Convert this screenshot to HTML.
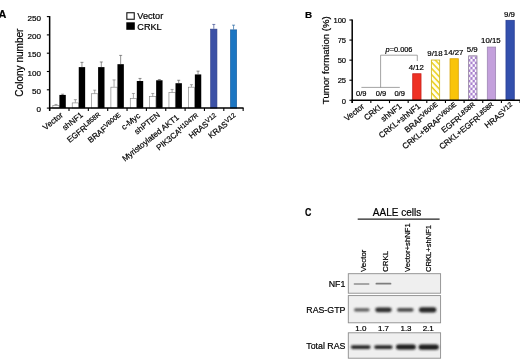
<!DOCTYPE html>
<html><head><meta charset="utf-8"><title>Figure</title>
<style>
html,body{margin:0;padding:0;background:#fff;}
body{width:520px;height:359px;overflow:hidden;}
svg{display:block;}
text{font-family:"Liberation Sans",sans-serif;fill:#000;stroke:#000;stroke-width:0.2px;}
.b{font-weight:bold;fill:#000;}
</style></head><body>
<svg width="520" height="359" viewBox="0 0 520 359">
<defs>
<pattern id="stripe" width="4.2" height="4.2" patternUnits="userSpaceOnUse" patternTransform="translate(431,60.5) rotate(47)">
<rect width="4.2" height="4.2" fill="#fffef0"/><rect width="4.2" height="1.5" fill="#ecd01a"/>
</pattern>
<pattern id="check" width="4.4" height="5.2" patternUnits="userSpaceOnUse" patternTransform="translate(470.4,56.4)">
<rect width="4.4" height="5.2" fill="#fdfbfe"/><rect width="2.2" height="2.6" fill="#a981cf"/><rect x="2.2" y="2.6" width="2.2" height="2.6" fill="#a981cf"/>
</pattern>
<filter id="bl" x="-20%" y="-100%" width="140%" height="300%"><feGaussianBlur stdDeviation="1.1 0.8"/></filter>
<filter id="bl2" x="-20%" y="-100%" width="140%" height="300%"><feGaussianBlur stdDeviation="0.6 0.4"/></filter>
</defs>
<rect width="520" height="359" fill="#fff"/>

<g id="panelA">
<text class="b" x="-1.6" y="17.9" font-size="10.8">A</text>
<text transform="translate(23.2,62.6) rotate(-90)" text-anchor="middle" font-size="10.05">Colony number</text>
<line x1="46.85" y1="108.10" x2="49.65" y2="108.10" stroke="#000" stroke-width="1.1"/>
<text x="41.05" y="112.30" text-anchor="end" font-size="8.1">0</text>
<line x1="46.85" y1="89.80" x2="49.65" y2="89.80" stroke="#000" stroke-width="1.1"/>
<text x="41.05" y="94.00" text-anchor="end" font-size="8.1">50</text>
<line x1="46.85" y1="71.50" x2="49.65" y2="71.50" stroke="#000" stroke-width="1.1"/>
<text x="41.05" y="75.70" text-anchor="end" font-size="8.1">100</text>
<line x1="46.85" y1="53.20" x2="49.65" y2="53.20" stroke="#000" stroke-width="1.1"/>
<text x="41.05" y="57.40" text-anchor="end" font-size="8.1">150</text>
<line x1="46.85" y1="34.90" x2="49.65" y2="34.90" stroke="#000" stroke-width="1.1"/>
<text x="41.05" y="39.10" text-anchor="end" font-size="8.1">200</text>
<line x1="46.85" y1="16.60" x2="49.65" y2="16.60" stroke="#000" stroke-width="1.1"/>
<text x="41.05" y="20.80" text-anchor="end" font-size="8.1">250</text>
<rect x="52.85" y="105.47" width="6.3" height="2.63" fill="#fff" stroke="#777" stroke-width="0.6"/>
<path d="M56.00 105.17V104.44M54.50 104.44H57.50" stroke="#777" stroke-width="0.65" fill="none"/>
<rect x="59.40" y="94.92" width="6.4" height="13.18" fill="#000"/>
<path d="M62.60 94.92V94.19M61.10 94.19H64.10" stroke="#555" stroke-width="0.65" fill="none"/>
<rect x="72.20" y="102.91" width="6.3" height="5.19" fill="#fff" stroke="#777" stroke-width="0.6"/>
<path d="M75.35 102.61V99.68M73.85 99.68H76.85" stroke="#777" stroke-width="0.65" fill="none"/>
<rect x="78.75" y="67.11" width="6.4" height="40.99" fill="#000"/>
<path d="M81.95 67.11V62.35M80.45 62.35H83.45" stroke="#555" stroke-width="0.65" fill="none"/>
<rect x="91.55" y="93.76" width="6.3" height="14.34" fill="#fff" stroke="#777" stroke-width="0.6"/>
<path d="M94.70 93.46V90.17M93.20 90.17H96.20" stroke="#777" stroke-width="0.65" fill="none"/>
<rect x="98.10" y="67.11" width="6.4" height="40.99" fill="#000"/>
<path d="M101.30 67.11V61.98M99.80 61.98H102.80" stroke="#555" stroke-width="0.65" fill="none"/>
<rect x="110.90" y="87.17" width="6.3" height="20.93" fill="#fff" stroke="#777" stroke-width="0.6"/>
<path d="M114.05 86.87V79.92M112.55 79.92H115.55" stroke="#777" stroke-width="0.65" fill="none"/>
<rect x="117.45" y="64.18" width="6.4" height="43.92" fill="#000"/>
<path d="M120.65 64.18V55.40M119.15 55.40H122.15" stroke="#555" stroke-width="0.65" fill="none"/>
<rect x="130.25" y="98.52" width="6.3" height="9.58" fill="#fff" stroke="#777" stroke-width="0.6"/>
<path d="M133.40 98.22V93.46M131.90 93.46H134.90" stroke="#777" stroke-width="0.65" fill="none"/>
<rect x="136.80" y="81.02" width="6.4" height="27.08" fill="#000"/>
<path d="M140.00 81.02V78.45M138.50 78.45H141.50" stroke="#555" stroke-width="0.65" fill="none"/>
<rect x="149.60" y="96.69" width="6.3" height="11.41" fill="#fff" stroke="#777" stroke-width="0.6"/>
<path d="M152.75 96.39V93.46M151.25 93.46H154.25" stroke="#777" stroke-width="0.65" fill="none"/>
<rect x="156.15" y="80.28" width="6.4" height="27.82" fill="#000"/>
<path d="M159.35 80.28V79.55M157.85 79.55H160.85" stroke="#555" stroke-width="0.65" fill="none"/>
<rect x="168.95" y="92.66" width="6.3" height="15.44" fill="#fff" stroke="#777" stroke-width="0.6"/>
<path d="M172.10 92.36V89.43M170.60 89.43H173.60" stroke="#777" stroke-width="0.65" fill="none"/>
<rect x="175.50" y="83.21" width="6.4" height="24.89" fill="#000"/>
<path d="M178.70 83.21V80.28M177.20 80.28H180.20" stroke="#555" stroke-width="0.65" fill="none"/>
<rect x="188.30" y="87.17" width="6.3" height="20.93" fill="#fff" stroke="#777" stroke-width="0.6"/>
<path d="M191.45 86.87V84.68M189.95 84.68H192.95" stroke="#777" stroke-width="0.65" fill="none"/>
<rect x="194.85" y="74.43" width="6.4" height="33.67" fill="#000"/>
<path d="M198.05 74.43V71.13M196.55 71.13H199.55" stroke="#555" stroke-width="0.65" fill="none"/>
<rect x="210.65" y="29.12" width="6.3" height="78.98" fill="#3c51a6" stroke="#2c3c86" stroke-width="0.6"/>
<path d="M213.80 28.82V24.43M212.30 24.43H215.30" stroke="#2c3c86" stroke-width="0.65" fill="none"/>
<rect x="230.40" y="29.86" width="6.3" height="78.24" fill="#1c76c2" stroke="#185c9c" stroke-width="0.6"/>
<path d="M233.55 29.56V25.16M232.05 25.16H235.05" stroke="#185c9c" stroke-width="0.65" fill="none"/>
<line x1="49.65" y1="16.1" x2="49.65" y2="110.8" stroke="#000" stroke-width="1.5"/>
<line x1="48.949999999999996" y1="108.1" x2="243.6" y2="108.1" stroke="#000" stroke-width="1.5"/>
<line x1="49.65" y1="108.1" x2="49.65" y2="110.89999999999999" stroke="#000" stroke-width="1.1"/>
<line x1="69.00" y1="108.1" x2="69.00" y2="110.89999999999999" stroke="#000" stroke-width="1.1"/>
<line x1="88.35" y1="108.1" x2="88.35" y2="110.89999999999999" stroke="#000" stroke-width="1.1"/>
<line x1="107.70" y1="108.1" x2="107.70" y2="110.89999999999999" stroke="#000" stroke-width="1.1"/>
<line x1="127.05" y1="108.1" x2="127.05" y2="110.89999999999999" stroke="#000" stroke-width="1.1"/>
<line x1="146.40" y1="108.1" x2="146.40" y2="110.89999999999999" stroke="#000" stroke-width="1.1"/>
<line x1="165.75" y1="108.1" x2="165.75" y2="110.89999999999999" stroke="#000" stroke-width="1.1"/>
<line x1="185.10" y1="108.1" x2="185.10" y2="110.89999999999999" stroke="#000" stroke-width="1.1"/>
<line x1="204.45" y1="108.1" x2="204.45" y2="110.89999999999999" stroke="#000" stroke-width="1.1"/>
<line x1="223.80" y1="108.1" x2="223.80" y2="110.89999999999999" stroke="#000" stroke-width="1.1"/>
<line x1="243.15" y1="108.1" x2="243.15" y2="110.89999999999999" stroke="#000" stroke-width="1.1"/>
<text transform="translate(63.55,116.10) rotate(-38.5)" text-anchor="end" font-size="8.1">Vector</text>
<text transform="translate(83.60,115.90) rotate(-38.5)" text-anchor="end" font-size="8.1">shNF1</text>
<text transform="translate(102.25,117.20) rotate(-38.5)" text-anchor="end" font-size="8.1">EGFR<tspan font-size="6.5" dy="-2.3">L858R</tspan></text>
<text transform="translate(122.60,117.60) rotate(-38.5)" text-anchor="end" font-size="8.1">BRAF<tspan font-size="6.5" dy="-2.3">V600E</tspan></text>
<text transform="translate(140.85,116.70) rotate(-38.5)" text-anchor="end" font-size="8.1">c-Myc</text>
<text transform="translate(160.70,115.90) rotate(-38.5)" text-anchor="end" font-size="8.1">shPTEN</text>
<text transform="translate(179.55,118.40) rotate(-38.5)" text-anchor="end" font-size="8.1">Myristoylated AKT1</text>
<text transform="translate(200.20,117.90) rotate(-38.5)" text-anchor="end" font-size="8.1">PIK3CA<tspan font-size="6.5" dy="-2.3">H1047R</tspan></text>
<text transform="translate(218.05,117.90) rotate(-38.5)" text-anchor="end" font-size="8.1">HRAS<tspan font-size="6.5" dy="-2.3">V12</tspan></text>
<text transform="translate(237.40,117.90) rotate(-38.5)" text-anchor="end" font-size="8.1">KRAS<tspan font-size="6.5" dy="-2.3">V12</tspan></text>
<rect x="126.85" y="12.75" width="7.4" height="6.5" fill="#fff" stroke="#111" stroke-width="1.1"/>
<text x="137.3" y="19.2" font-size="9.15">Vector</text>
<rect x="126.3" y="22.3" width="8.5" height="7.5" fill="#000"/>
<text x="137.3" y="30.0" font-size="9.15">CRKL</text>
</g>
<g id="panelB">
<text class="b" x="304.9" y="17.8" font-size="9.9">B</text>
<text transform="translate(329.4,60.2) rotate(-90)" text-anchor="middle" font-size="9.65">Tumor formation (%)</text>
<line x1="349.4" y1="100.30" x2="352.2" y2="100.30" stroke="#000" stroke-width="1.1"/>
<text x="346.09999999999997" y="103.55" text-anchor="end" font-size="7.6">0</text>
<line x1="349.4" y1="80.22" x2="352.2" y2="80.22" stroke="#000" stroke-width="1.1"/>
<text x="346.09999999999997" y="83.47" text-anchor="end" font-size="7.6">25</text>
<line x1="349.4" y1="60.15" x2="352.2" y2="60.15" stroke="#000" stroke-width="1.1"/>
<text x="346.09999999999997" y="63.40" text-anchor="end" font-size="7.6">50</text>
<line x1="349.4" y1="40.08" x2="352.2" y2="40.08" stroke="#000" stroke-width="1.1"/>
<text x="346.09999999999997" y="43.33" text-anchor="end" font-size="7.6">75</text>
<line x1="349.4" y1="20.00" x2="352.2" y2="20.00" stroke="#000" stroke-width="1.1"/>
<text x="346.09999999999997" y="23.25" text-anchor="end" font-size="7.6">100</text>
<path d="M361.4 87.4H399.8M380.6 87.4V55.2H417.3V61" stroke="#7d7d7d" stroke-width="0.7" fill="none"/>
<text x="399" y="51.7" text-anchor="middle" font-size="7.4" stroke-width="0.1"><tspan font-style="italic">p</tspan>=0.006</text>
<text x="361.3" y="96.2" text-anchor="middle" font-size="7.5" stroke-width="0.1">0/9</text>
<text x="381" y="96.2" text-anchor="middle" font-size="7.5" stroke-width="0.1">0/9</text>
<text x="399.6" y="96.2" text-anchor="middle" font-size="7.5" stroke-width="0.1">0/9</text>
<rect x="412.72" y="73.75" width="8.3" height="26.55" fill="#ee3124" stroke="#c9211c" stroke-width="0.8"/>
<text x="416.27" y="69.90" text-anchor="middle" font-size="7.8" stroke-width="0.1">4/12</text>
<rect x="431.37" y="60.02" width="8.3" height="40.28" fill="url(#stripe)" stroke="#cdb61a" stroke-width="0.8"/>
<text x="434.92" y="56.17" text-anchor="middle" font-size="7.8" stroke-width="0.1">9/18</text>
<rect x="450.02" y="58.73" width="8.3" height="41.57" fill="#f9c40a" stroke="#d9a30a" stroke-width="0.8"/>
<text x="453.57" y="54.88" text-anchor="middle" font-size="7.8" stroke-width="0.1">14/27</text>
<rect x="468.67" y="55.84" width="8.3" height="44.46" fill="url(#check)" stroke="#8a7896" stroke-width="0.8"/>
<text x="472.22" y="51.99" text-anchor="middle" font-size="7.8" stroke-width="0.1">5/9</text>
<rect x="487.32" y="47.09" width="8.3" height="53.21" fill="#c3a0dc" stroke="#9d86b4" stroke-width="0.8"/>
<text x="490.88" y="43.24" text-anchor="middle" font-size="7.8" stroke-width="0.1">10/15</text>
<rect x="505.97" y="20.35" width="8.3" height="79.95" fill="#3350ad" stroke="#2a3f95" stroke-width="0.8"/>
<text x="509.52" y="16.50" text-anchor="middle" font-size="7.8" stroke-width="0.1">9/9</text>
<line x1="352.2" y1="19.5" x2="352.2" y2="103.0" stroke="#000" stroke-width="1.5"/>
<line x1="351.5" y1="100.3" x2="520" y2="100.3" stroke="#000" stroke-width="1.5"/>
<line x1="352.20" y1="100.3" x2="352.20" y2="103.1" stroke="#000" stroke-width="1.1"/>
<line x1="370.85" y1="100.3" x2="370.85" y2="103.1" stroke="#000" stroke-width="1.1"/>
<line x1="389.50" y1="100.3" x2="389.50" y2="103.1" stroke="#000" stroke-width="1.1"/>
<line x1="408.15" y1="100.3" x2="408.15" y2="103.1" stroke="#000" stroke-width="1.1"/>
<line x1="426.80" y1="100.3" x2="426.80" y2="103.1" stroke="#000" stroke-width="1.1"/>
<line x1="445.45" y1="100.3" x2="445.45" y2="103.1" stroke="#000" stroke-width="1.1"/>
<line x1="464.10" y1="100.3" x2="464.10" y2="103.1" stroke="#000" stroke-width="1.1"/>
<line x1="482.75" y1="100.3" x2="482.75" y2="103.1" stroke="#000" stroke-width="1.1"/>
<line x1="501.40" y1="100.3" x2="501.40" y2="103.1" stroke="#000" stroke-width="1.1"/>
<line x1="520.05" y1="100.3" x2="520.05" y2="103.1" stroke="#000" stroke-width="1.1"/>
<text transform="translate(365.00,107.20) rotate(-38.5)" text-anchor="end" font-size="8.15">Vector</text>
<text transform="translate(383.65,107.20) rotate(-38.5)" text-anchor="end" font-size="8.15">CRKL</text>
<text transform="translate(402.30,107.20) rotate(-38.5)" text-anchor="end" font-size="8.15">shNF1</text>
<text transform="translate(420.95,107.20) rotate(-38.5)" text-anchor="end" font-size="8.15">CRKL+shNF1</text>
<text transform="translate(439.60,107.20) rotate(-38.5)" text-anchor="end" font-size="8.15">BRAF<tspan font-size="6.6" dy="-2.4">V600E</tspan></text>
<text transform="translate(458.25,107.20) rotate(-38.5)" text-anchor="end" font-size="8.15">CRKL+BRAF<tspan font-size="6.6" dy="-2.4">V600E</tspan></text>
<text transform="translate(476.90,107.20) rotate(-38.5)" text-anchor="end" font-size="8.15">EGFR<tspan font-size="6.6" dy="-2.4">L858R</tspan></text>
<text transform="translate(495.55,107.20) rotate(-38.5)" text-anchor="end" font-size="8.15">CRKL+EGFR<tspan font-size="6.6" dy="-2.4">L858R</tspan></text>
<text transform="translate(514.20,107.20) rotate(-38.5)" text-anchor="end" font-size="8.15">HRAS<tspan font-size="6.6" dy="-2.4">V12</tspan></text>
</g>
<g id="panelC">
<text class="b" transform="translate(305.1,216.1) scale(0.76,1)" font-size="11.6">C</text>
<text x="397" y="216.2" text-anchor="middle" font-size="10">AALE cells</text>
<line x1="357.7" y1="219.1" x2="439.6" y2="219.1" stroke="#222" stroke-width="1.1"/>
<text transform="translate(365.9,272) rotate(-90)" font-size="7.95">Vector</text>
<text transform="translate(387.8,272) rotate(-90)" font-size="7.9">CRKL</text>
<text transform="translate(409.7,272) rotate(-90)" font-size="7.65">Vector+shNF1</text>
<text transform="translate(431.3,272) rotate(-90)" font-size="7.6">CRKL+shNF1</text>
<rect x="348.3" y="273.7" width="92.3" height="19.5" fill="#efefef" stroke="#8c8c8c" stroke-width="0.9"/>
<rect x="348.3" y="295.6" width="92.3" height="27.19999999999999" fill="#efefef" stroke="#8c8c8c" stroke-width="0.9"/>
<rect x="348.3" y="332.8" width="92.3" height="25.399999999999977" fill="#efefef" stroke="#8c8c8c" stroke-width="0.9"/>
<text x="345.4" y="286.6" text-anchor="end" font-size="8.8">NF1</text>
<text x="345.4" y="313.1" text-anchor="end" font-size="8.8">RAS-GTP</text>
<text x="345.4" y="349.4" text-anchor="end" font-size="8.8">Total RAS</text>
<rect x="353.6" y="283.35" width="15.9" height="1.5" rx="0.75" fill="#8e8e8e" opacity="1" filter="url(#bl2)"/>
<rect x="375.5" y="282.80" width="15.9" height="1.8" rx="0.9" fill="#7e7e7e" opacity="1" filter="url(#bl2)"/>
<rect x="354" y="308.20" width="15.6" height="3.2" rx="1.6" fill="#5a5a5a" opacity="1" filter="url(#bl)"/>
<rect x="375.2" y="307.40" width="16.5" height="4.8" rx="2.4" fill="#2e2e2e" opacity="1" filter="url(#bl)"/>
<rect x="397" y="307.90" width="16.6" height="3.8" rx="1.9" fill="#4a4a4a" opacity="1" filter="url(#bl)"/>
<rect x="419" y="307.20" width="17.3" height="5.2" rx="2.6" fill="#262626" opacity="1" filter="url(#bl)"/>
<rect x="350.8" y="345.30" width="19.8" height="3.6" rx="1.8" fill="#262626" opacity="1" filter="url(#bl)"/>
<rect x="374.2" y="345.20" width="18.4" height="3.8" rx="1.9" fill="#262626" opacity="1" filter="url(#bl)"/>
<rect x="396" y="344.60" width="19.8" height="5.0" rx="2.5" fill="#1a1a1a" opacity="1" filter="url(#bl)"/>
<rect x="418.6" y="344.40" width="20.2" height="5.4" rx="2.7" fill="#1a1a1a" opacity="1" filter="url(#bl)"/>
<text x="360.9" y="331.4" text-anchor="middle" font-size="8" stroke-width="0.05">1.0</text>
<text x="383.5" y="331.4" text-anchor="middle" font-size="8" stroke-width="0.05">1.7</text>
<text x="406" y="331.4" text-anchor="middle" font-size="8" stroke-width="0.05">1.3</text>
<text x="428.2" y="331.4" text-anchor="middle" font-size="8" stroke-width="0.05">2.1</text>
</g>
</svg></body></html>
